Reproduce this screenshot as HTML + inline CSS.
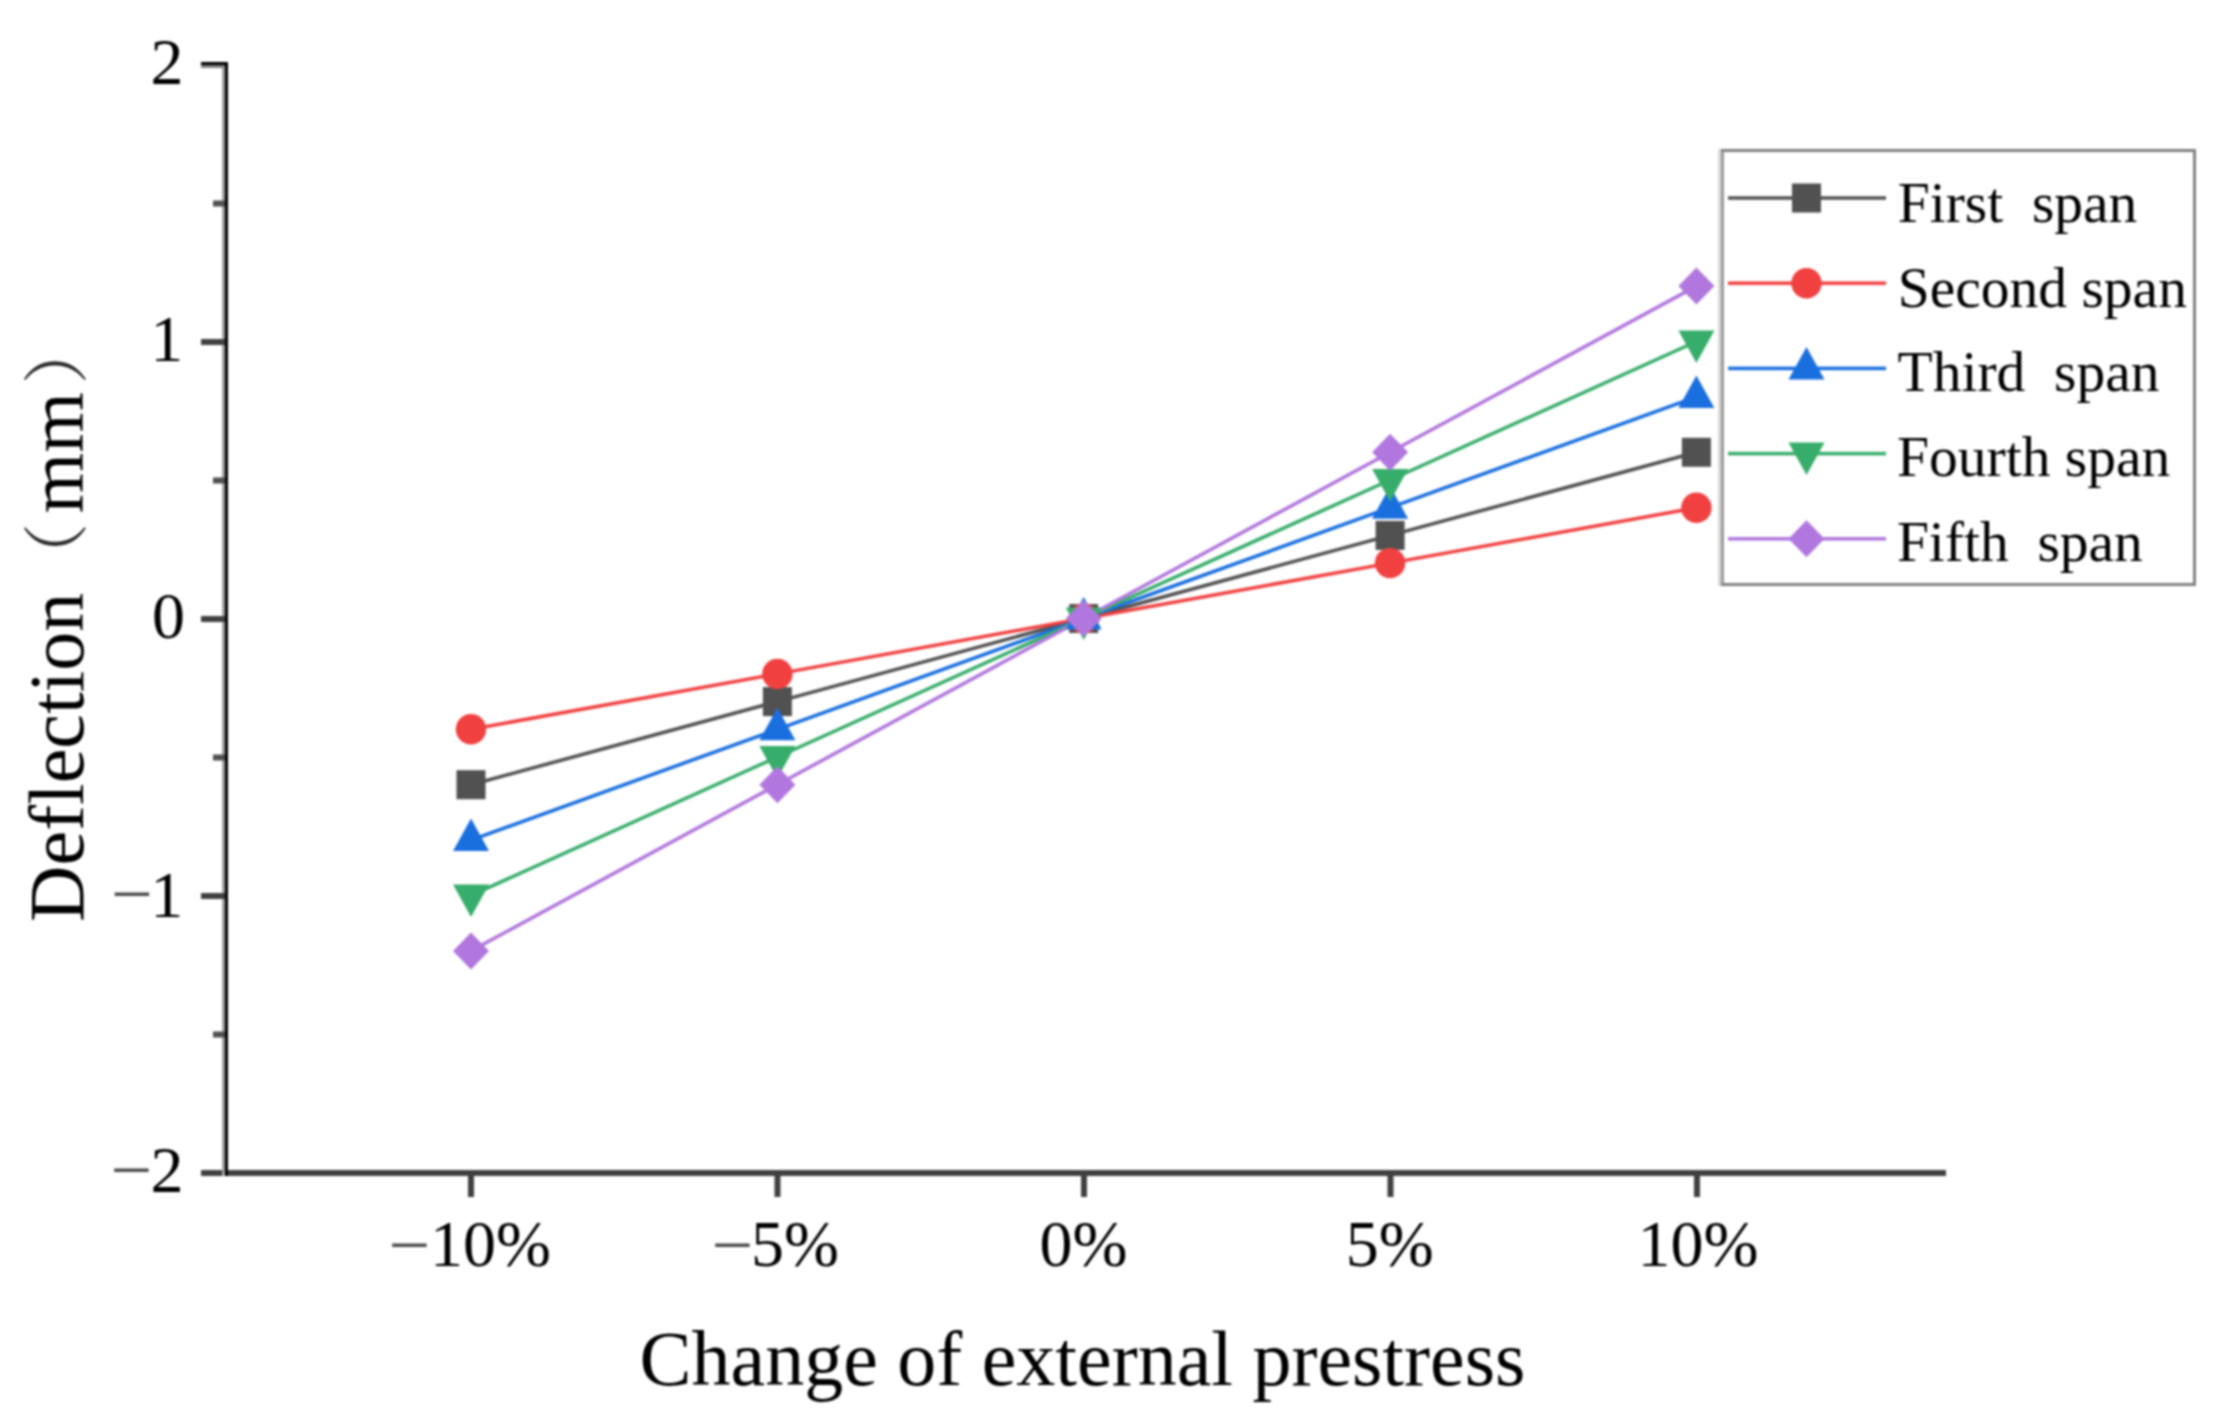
<!DOCTYPE html>
<html lang="en"><head><meta charset="utf-8"><title>Deflection vs change of external prestress</title>
<style>
html,body{margin:0;padding:0;background:#fff;}
body{width:2217px;height:1426px;overflow:hidden;}
svg{display:block;filter:blur(0.8px);}
text{font-family:"Liberation Serif","Noto Serif CJK SC",serif;fill:#000;white-space:pre;}
</style></head><body>
<svg width="2217" height="1426" viewBox="0 0 2217 1426">
<rect x="0" y="0" width="2217" height="1426" fill="#ffffff"/>

<g id="axes">
<rect x="201" y="1170" width="1745" height="6" fill="#404040"/>
<rect x="222" y="62" width="3" height="1114" fill="#a0a0a0"/>
<rect x="225" y="62" width="3" height="1114" fill="#000000"/>
<rect x="201" y="62.0" width="27" height="3" fill="#000"/><rect x="201" y="65.0" width="24" height="3" fill="#808080"/>
<rect x="213" y="200.5" width="12" height="6" fill="#505050"/>
<rect x="201" y="339.0" width="24" height="6" fill="#404040"/>
<rect x="213" y="477.5" width="12" height="6" fill="#505050"/>
<rect x="201" y="616.0" width="24" height="6" fill="#404040"/>
<rect x="213" y="754.5" width="12" height="6" fill="#505050"/>
<rect x="201" y="893.0" width="24" height="6" fill="#404040"/>
<rect x="213" y="1031.5" width="12" height="6" fill="#505050"/>
<rect x="468.0" y="1173" width="6" height="24" fill="#404040"/>
<rect x="774.5" y="1173" width="6" height="24" fill="#404040"/>
<rect x="1081.0" y="1173" width="6" height="24" fill="#404040"/>
<rect x="1387.5" y="1173" width="6" height="24" fill="#404040"/>
<rect x="1694.0" y="1173" width="6" height="24" fill="#404040"/>
</g>
<g id="ticklabels">
<text xml:space="preserve"><tspan x="150.60" y="83.70" font-size="66">2</tspan></text>
<text xml:space="preserve"><tspan x="150.35" y="360.95" font-size="66">1</tspan></text>
<text xml:space="preserve"><tspan x="151.90" y="637.85" font-size="66">0</tspan></text>
<text xml:space="preserve"><tspan x="110.90" y="918.75" font-size="74" fill="#4d4d4d">−</tspan><tspan x="150.35" y="916.95" font-size="66">1</tspan></text>
<text xml:space="preserve"><tspan x="110.55" y="1195.00" font-size="74" fill="#4d4d4d">−</tspan><tspan x="150.60" y="1191.60" font-size="66">2</tspan></text>
<text xml:space="preserve"><tspan x="388.55" y="1269.90" font-size="74" fill="#4d4d4d">−</tspan><tspan x="430.05" y="1265.90" font-size="66">10%</tspan></text>
<text xml:space="preserve"><tspan x="711.45" y="1269.90" font-size="74" fill="#4d4d4d">−</tspan><tspan x="751.10" y="1265.90" font-size="66">5%</tspan></text>
<text xml:space="preserve"><tspan x="1039.45" y="1265.90" font-size="66">0%</tspan></text>
<text xml:space="preserve"><tspan x="1345.70" y="1265.90" font-size="66">5%</tspan></text>
<text xml:space="preserve"><tspan x="1637.50" y="1265.65" font-size="66">10%</tspan></text>
</g>
<g id="titles">
<text xml:space="preserve"><tspan x="639.50" y="1385.00" font-size="78">Change of external prestress</tspan></text>
<text xml:space="preserve" transform="rotate(-90)"><tspan x="-921.95" y="83.15" font-size="78">Deflection</tspan><tspan x="-589.00" y="79.55" font-size="66" fill="#2a2a2a">（</tspan><tspan x="-513.45" y="81.85" font-size="78">mm</tspan><tspan x="-384.25" y="79.55" font-size="66" fill="#2a2a2a">）</tspan></text>
</g>
<g id="lines" fill="none" stroke-width="3.5" stroke-linejoin="round">
<polyline points="471.0,784.7 777.4,701.6 1083.7,618.5 1390.1,535.4 1696.4,452.3" stroke="#515151"/>
<polyline points="471.0,729.3 777.4,673.9 1083.7,618.5 1390.1,563.1 1696.4,507.7" stroke="#F14040"/>
<polyline points="471.0,840.1 777.4,729.3 1083.7,618.5 1390.1,507.7 1696.4,396.9" stroke="#1A6FDF"/>
<polyline points="471.0,895.5 777.4,757.0 1083.7,618.5 1390.1,480.0 1696.4,341.5" stroke="#37AD6B"/>
<polyline points="471.0,950.9 777.4,784.7 1083.7,618.5 1390.1,452.3 1696.4,286.1" stroke="#B177DE"/>
</g>
<g id="markers">
<rect x="456.5" y="770.2" width="29.0" height="29.0" fill="#515151"/>
<rect x="762.9" y="687.1" width="29.0" height="29.0" fill="#515151"/>
<rect x="1069.2" y="604.0" width="29.0" height="29.0" fill="#515151"/>
<rect x="1375.6" y="520.9" width="29.0" height="29.0" fill="#515151"/>
<rect x="1681.9" y="437.8" width="29.0" height="29.0" fill="#515151"/>
<circle cx="471.0" cy="729.3" r="15.2" fill="#F14040"/>
<circle cx="777.4" cy="673.9" r="15.2" fill="#F14040"/>
<circle cx="1083.7" cy="618.5" r="15.2" fill="#F14040"/>
<circle cx="1390.1" cy="563.1" r="15.2" fill="#F14040"/>
<circle cx="1696.4" cy="507.7" r="15.2" fill="#F14040"/>
<polygon points="471.0,818.6 489.0,851.1 453.0,851.1" fill="#1A6FDF"/>
<polygon points="777.4,707.8 795.4,740.3 759.4,740.3" fill="#1A6FDF"/>
<polygon points="1083.7,597.0 1101.7,629.5 1065.7,629.5" fill="#1A6FDF"/>
<polygon points="1390.1,486.2 1408.1,518.7 1372.1,518.7" fill="#1A6FDF"/>
<polygon points="1696.4,375.4 1714.4,407.9 1678.4,407.9" fill="#1A6FDF"/>
<polygon points="471.0,917.0 489.0,884.5 453.0,884.5" fill="#37AD6B"/>
<polygon points="777.4,778.5 795.4,746.0 759.4,746.0" fill="#37AD6B"/>
<polygon points="1083.7,640.0 1101.7,607.5 1065.7,607.5" fill="#37AD6B"/>
<polygon points="1390.1,501.5 1408.1,469.0 1372.1,469.0" fill="#37AD6B"/>
<polygon points="1696.4,363.0 1714.4,330.5 1678.4,330.5" fill="#37AD6B"/>
<polygon points="471.0,932.4 489.0,950.9 471.0,969.4 453.0,950.9" fill="#B177DE"/>
<polygon points="777.4,766.2 795.4,784.7 777.4,803.2 759.4,784.7" fill="#B177DE"/>
<polygon points="1083.7,600.0 1101.7,618.5 1083.7,637.0 1065.7,618.5" fill="#B177DE"/>
<polygon points="1390.1,433.8 1408.1,452.3 1390.1,470.8 1372.1,452.3" fill="#B177DE"/>
<polygon points="1696.4,267.6 1714.4,286.1 1696.4,304.6 1678.4,286.1" fill="#B177DE"/>
</g>
<g id="legend">
<rect x="1721" y="149" width="474" height="437" fill="#fff" stroke="none"/>
<rect x="1718" y="149" width="3" height="437" fill="#d8d8d8"/>
<rect x="1721" y="149" width="3" height="437" fill="#9a9a9a"/>
<rect x="1721" y="149" width="475" height="3" fill="#808080"/>
<rect x="1721" y="583" width="475" height="3" fill="#808080"/>
<rect x="2193" y="149" width="3" height="437" fill="#808080"/>
<rect x="1728" y="196.25" width="158" height="3.5" fill="#515151"/>
<rect x="1792.0" y="183.5" width="29.0" height="29.0" fill="#515151"/>
<text xml:space="preserve"><tspan x="1897.70" y="222.10" font-size="57.5">First  span</tspan></text>
<rect x="1728" y="281.45" width="158" height="3.5" fill="#F14040"/>
<circle cx="1806.5" cy="283.2" r="15.2" fill="#F14040"/>
<text xml:space="preserve"><tspan x="1897.85" y="306.75" font-size="57.5">Second span</tspan></text>
<rect x="1728" y="366.65" width="158" height="3.5" fill="#1A6FDF"/>
<polygon points="1806.5,346.9 1824.5,379.4 1788.5,379.4" fill="#1A6FDF"/>
<text xml:space="preserve"><tspan x="1897.60" y="391.45" font-size="57.5">Third  span</tspan></text>
<rect x="1728" y="451.85" width="158" height="3.5" fill="#37AD6B"/>
<polygon points="1806.5,475.1 1824.5,442.6 1788.5,442.6" fill="#37AD6B"/>
<text xml:space="preserve"><tspan x="1897.10" y="475.55" font-size="57.5">Fourth span</tspan></text>
<rect x="1728" y="537.05" width="158" height="3.5" fill="#B177DE"/>
<polygon points="1806.5,520.3 1824.5,538.8 1806.5,557.3 1788.5,538.8" fill="#B177DE"/>
<text xml:space="preserve"><tspan x="1896.90" y="561.45" font-size="57.5">Fifth  span</tspan></text>
</g>
</svg></body></html>
